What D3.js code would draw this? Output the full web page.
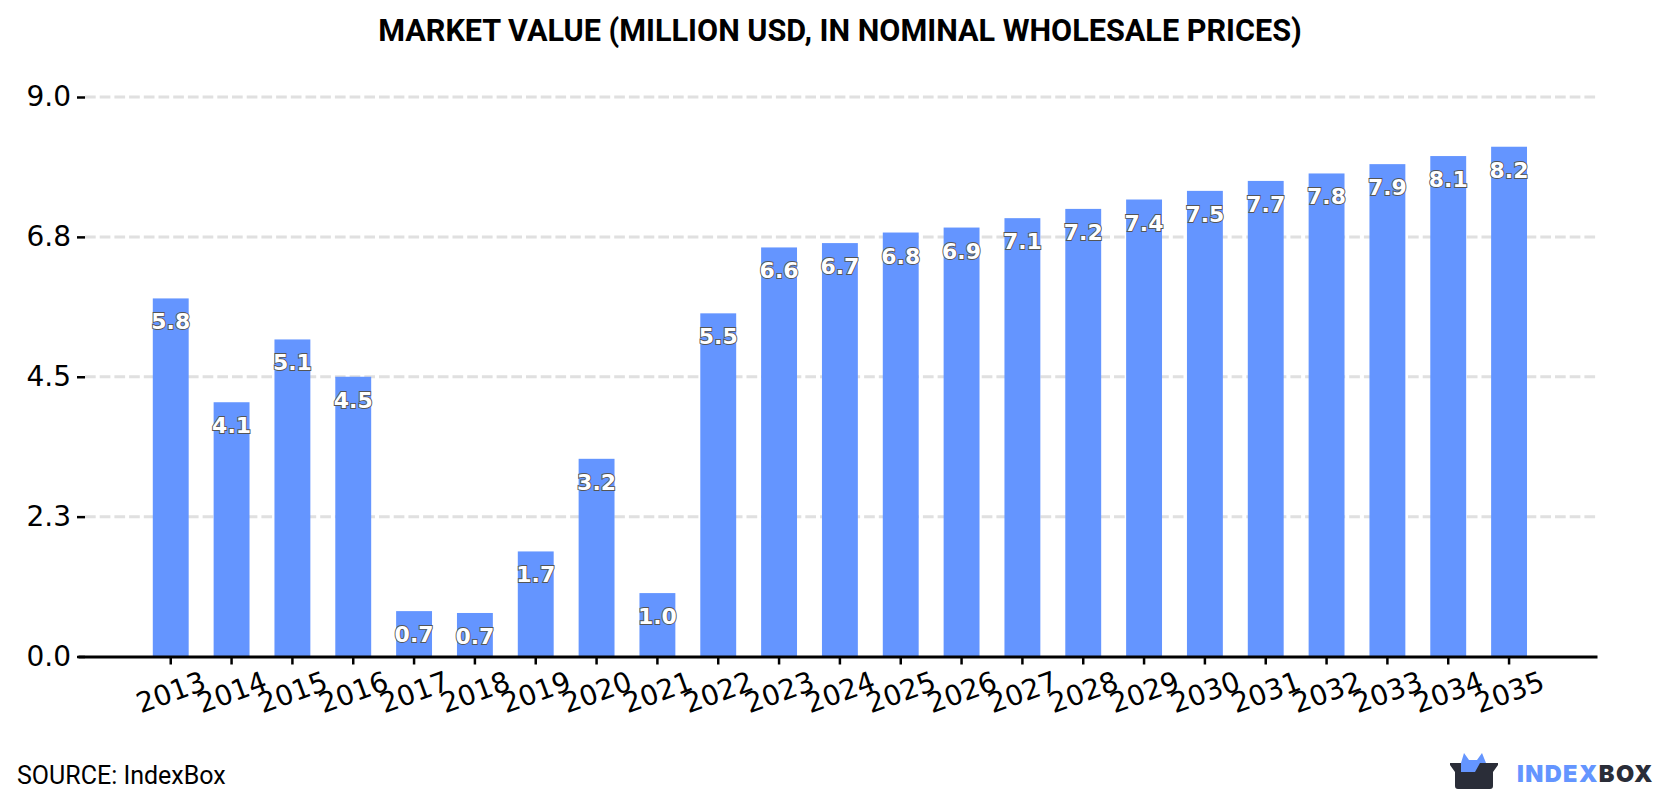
<!DOCTYPE html>
<html>
<head>
<meta charset="utf-8">
<title>Market value</title>
<script src="https://cdnjs.cloudflare.com/ajax/libs/d3/7.8.5/d3.min.js"></script>
<style>
  html, body { margin: 0; padding: 0; background: #fff; }
  svg { display: block; }
</style>
</head>
<body>
<svg id="chart" width="1680" height="800"></svg>
<script>
const years = ["2013","2014","2015","2016","2017","2018","2019","2020","2021","2022","2023","2024","2025","2026","2027","2028","2029","2030","2031","2032","2033","2034","2035"];
const marketValues = [5.76,4.09,5.10,4.50,0.73,0.70,1.69,3.18,1.02,5.52,6.58,6.65,6.82,6.90,7.051,7.20,7.351,7.49,7.65,7.77,7.92,8.05,8.20];
const yTicks = [0, 2.25, 4.5, 6.75, 9];
const titleText = "MARKET VALUE (MILLION USD, IN NOMINAL WHOLESALE PRICES)";
const sourceText = "SOURCE: IndexBox";

const svg = d3.select("#chart");
const axisLeft = 78, axisRight = 1597, axisBottom = 656.5, axisTop = 97;

const x = d3.scaleBand()
  .domain(years)
  .range([axisLeft, axisRight])
  .paddingInner(0.41)
  .paddingOuter(1.19)
  .align(0.5166);

const y = d3.scaleLinear().domain([0, 9]).range([axisBottom, axisTop]);

// Title
svg.append("text")
  .attr("x", 840).attr("y", 41)
  .attr("text-anchor", "middle")
  .attr("font-family", "Roboto")
  .attr("font-weight", 700)
  .attr("font-size", 30.6)
  .attr("fill", "#000")
  .text(titleText);

// Dashed gridlines, skipping the baseline
svg.append("g").selectAll("line")
  .data(yTicks.filter(d => d > 0))
  .join("line")
  .attr("x1", axisLeft + 7).attr("x2", axisRight)
  .attr("y1", d => y(d)).attr("y2", d => y(d))
  .attr("stroke", "#e0e0e0")
  .attr("stroke-width", 3)
  .attr("stroke-dasharray", "10.7 4");

// Bars
svg.append("g").selectAll("rect")
  .data(years)
  .join("rect")
  .attr("x", d => x(d))
  .attr("width", x.bandwidth())
  .attr("y", (d, i) => y(marketValues[i]))
  .attr("height", (d, i) => axisBottom - y(marketValues[i]))
  .attr("fill", "#6495ff");

// Value labels just inside the top of each bar
svg.append("g").selectAll("text")
  .data(years)
  .join("text")
  .attr("x", d => x(d) + x.bandwidth() / 2)
  .attr("y", (d, i) => y(marketValues[i]) + 31)
  .attr("text-anchor", "middle")
  .attr("font-family", "DejaVu Sans")
  .attr("font-weight", 700)
  .attr("font-size", 22)
  .attr("fill", "#fff")
  .attr("stroke", "#555")
  .attr("stroke-width", 1.8)
  .attr("paint-order", "stroke")
  .text((d, i) => d3.format(".1f")(marketValues[i]));

// Y axis
const yAxis = d3.axisLeft(y)
  .tickValues(yTicks)
  .tickFormat(d3.format(".1f"))
  .tickSize(8)
  .tickPadding(6);
const gy = svg.append("g")
  .attr("transform", `translate(${axisLeft + 7},0)`)
  .call(yAxis);
gy.select(".domain").remove();
gy.selectAll("line").attr("stroke", "#000").attr("stroke-width", 2.5);
gy.selectAll("text")
  .attr("font-family", "DejaVu Sans")
  .attr("font-size", 28)
  .attr("fill", "#000");

// X axis with slanted year labels
const xAxis = d3.axisBottom(x).tickSize(8).tickPadding(6).tickSizeOuter(0);
const gx = svg.append("g")
  .attr("transform", `translate(0,${axisBottom})`)
  .call(xAxis);
gx.select(".domain").attr("stroke", "#000").attr("stroke-width", 3);
gx.selectAll(".tick line").attr("stroke", "#000").attr("stroke-width", 2.5);
gx.selectAll(".tick text")
  .attr("font-family", "DejaVu Sans")
  .attr("font-size", 28)
  .attr("fill", "#000")
  .attr("text-anchor", "middle")
  .attr("transform", "translate(-8,13) rotate(-20)")
  .attr("dy", "0.71em");

// Source note
svg.append("text")
  .attr("x", 17).attr("y", 784)
  .attr("font-family", "Roboto")
  .attr("font-size", 25)
  .attr("fill", "#000")
  .text(sourceText);

// Brand mark: open box with two blue peaks
const logo = svg.append("g").attr("transform", "translate(1450,763)");
logo.append("path")
  .attr("d", "M0 0 L48 0 L48 2 L43 9 L43 23 Q43 26 40 26 L8 26 Q5 26 5 23 L5 9 L0 2 Z")
  .attr("fill", "#2a2d38");
logo.append("path")
  .attr("d", "M11 9 L11 0 L14 -10 L19 -3 L27 -3 L32 -10 L36 0 L30 0 L25 9 Z")
  .attr("fill", "#6495ff");

const brand = svg.append("text")
  .attr("x", 1517).attr("y", 782)
  .attr("font-family", "Inter")
  .attr("font-weight", 900)
  .attr("font-size", 23.5)
  .attr("letter-spacing", 1.4);
brand.append("tspan").attr("fill", "#6495ff").text("INDEX");
brand.append("tspan").attr("fill", "#2a2d38").text("BOX");
</script>
</body>
</html>
